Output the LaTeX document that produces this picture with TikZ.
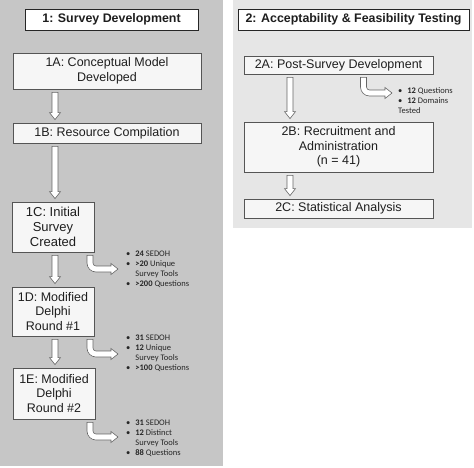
\documentclass[tikz,border=0pt]{standalone}
\usepackage{fontspec}
\setmainfont{Liberation Sans}
\newfontfamily\calib{Carlito}
\usetikzlibrary{calc}
\definecolor{panelA}{HTML}{C6C6C6}
\definecolor{panelB}{HTML}{E6E6E6}
\definecolor{boxfill}{HTML}{F6F6F6}
\definecolor{boxline}{HTML}{555555}
\definecolor{txt}{HTML}{1E1E1E}
\tikzset{
 box/.style={draw=boxline, fill=boxfill, line width=0.8pt, align=center, inner sep=1pt, font=\fontsize{12.5}{14.5}\selectfont, text=txt},
 titlebox/.style={draw=black!85, fill=white, line width=1pt, font=\bfseries\fontsize{12.4}{14}\selectfont, inner sep=0pt, text=txt},
 harr/.style={draw=black!60, fill=white, line width=0.6pt},
 notes/.style={anchor=north west, inner sep=0pt, font=\calib\fontsize{8.5}{10}\selectfont, text=black!85, align=left},
}
\newcommand{\harrowdown}[3]{\draw[harr] let \p1=(#1), \p2=(#2), \p3=(#3) in
 (\x1-3pt,\y2-3pt) -- (\x1+3pt,\y2-3pt) -- (\x1+3pt,\y3+10pt) -- (\x1+5.5pt,\y3+10pt) -- (\x1,\y3+3pt) -- (\x1-5.5pt,\y3+10pt) -- (\x1-3pt,\y3+10pt) -- cycle;}
\newcommand{\harrowbent}[3]{\draw[harr] let \p1=(#1), \p2=(#2), \p3=(#3) in
 (\x1-3pt,\y2-3pt) -- (\x1-3pt,\y3+6pt) arc[start angle=180,end angle=270,radius=9pt] -- (\x3-7pt,\y3-3pt) -- (\x3-7pt,\y3-5.5pt) -- (\x3,\y3) -- (\x3-7pt,\y3+5.5pt) -- (\x3-7pt,\y3+3pt) -- (\x1+6pt,\y3+3pt) arc[start angle=270,end angle=180,radius=3pt] -- (\x1+3pt,\y2-3pt) -- cycle;}
\begin{document}
\begin{tikzpicture}[x=1pt,y=-1pt]
\useasboundingbox (0,0) rectangle (474,467);
\fill[white] (0,0) rectangle (474,467);
\fill[panelA] (0,0) rectangle (223,466);
\fill[panelB] (233,0) rectangle (472,228);

% left column
\node[titlebox, minimum width=173pt, minimum height=21pt] (t1) at (111.5,19.5) {1: Survey Development};
\node[box, minimum width=188pt, minimum height=36pt] (1A) at (107,71) {1A: Conceptual Model\\Developed};
\node[box, minimum width=188pt, minimum height=20pt] (1B) at (107,133) {1B: Resource Compilation};
\node[box, minimum width=82pt, minimum height=50pt, font=\fontsize{13}{15}\selectfont] (1C) at (53,227) {1C: Initial\\Survey\\Created};
\node[box, minimum width=82pt, minimum height=49pt] (1D) at (53,311.5) {1D: Modified\\Delphi\\Round \#1};
\node[box, minimum width=82pt, minimum height=51pt] (1E) at (54,393.5) {1E: Modified\\Delphi\\Round \#2};

\coordinate (colA) at (55,0);
\harrowdown{colA}{1A.south}{1B.north}
\harrowdown{colA}{1B.south}{1C.north}
\harrowdown{colA}{1C.south}{1D.north}
\harrowdown{colA}{1D.south}{1E.north}

\coordinate (sC) at (90,0);
\coordinate (tipC) at (118,269);
\coordinate (tipD) at (118,354);
\coordinate (tipE) at (118,437);
\harrowbent{sC}{1C.south}{tipC}
\harrowbent{sC}{1D.south}{tipD}
\harrowbent{sC}{1E.south}{tipE}

\node[notes] (nC) at (126,249) {\begin{tabular}{@{}l@{\hspace{5pt}}l@{}}\textbullet&\textbf{24} SEDOH\\\textbullet&\textbf{>20} Unique\\&Survey Tools\\\textbullet&\textbf{>200} Questions\end{tabular}};
\node[notes] (nD) at (126,333) {\begin{tabular}{@{}l@{\hspace{5pt}}l@{}}\textbullet&\textbf{31} SEDOH\\\textbullet&\textbf{12} Unique\\&Survey Tools\\\textbullet&\textbf{>100} Questions\end{tabular}};
\node[notes] (nE) at (126,418) {\begin{tabular}{@{}l@{\hspace{5pt}}l@{}}\textbullet&\textbf{31} SEDOH\\\textbullet&\textbf{12} Distinct\\&Survey Tools\\\textbullet&\textbf{88} Questions\end{tabular}};

% right column
\node[titlebox, minimum width=231pt, minimum height=21pt] (t2) at (353.5,19.5) {2: Acceptability \& Feasibility Testing};
\node[box, minimum width=189pt, minimum height=18pt] (2A) at (338.5,65) {2A: Post-Survey Development};
\node[box, minimum width=189pt, minimum height=50pt] (2B) at (338.5,147) {2B: Recruitment and\\Administration\\(n = 41)};
\node[box, minimum width=189pt, minimum height=19pt] (2C) at (338.5,208.5) {2C: Statistical Analysis};

\coordinate (colB) at (290,0);
\harrowdown{colB}{2A.south}{2B.north}
\harrowdown{colB}{2B.south}{2C.north}

\coordinate (sA) at (363.5,0);
\coordinate (tipA) at (392,93);
\harrowbent{sA}{2A.south}{tipA}

\node[notes] (nA) at (398,86) {\begin{tabular}{@{}l@{\hspace{5pt}}l@{}}\textbullet&\textbf{12} Questions\\\textbullet&\textbf{12} Domains\\\multicolumn{2}{@{}l@{}}{Tested}\end{tabular}};
\end{tikzpicture}
\end{document}
